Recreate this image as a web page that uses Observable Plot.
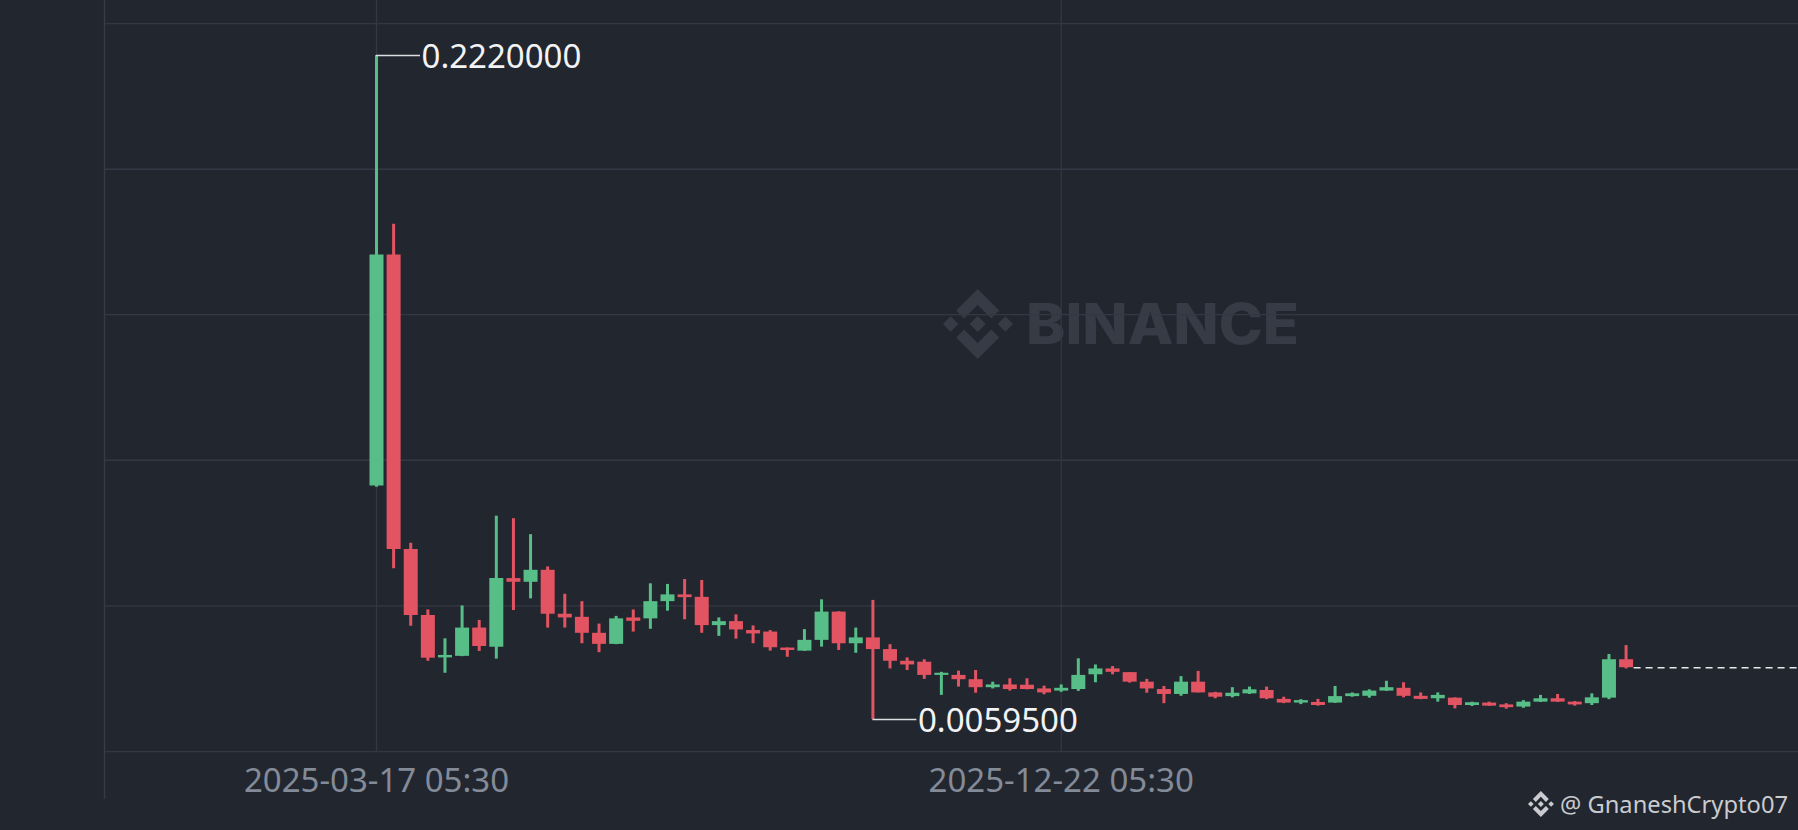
<!DOCTYPE html>
<html>
<head>
<meta charset="utf-8">
<script src="https://cdn.jsdelivr.net/npm/d3@7"></script>
<script src="https://cdn.jsdelivr.net/npm/@observablehq/plot@0.6"></script>
<style>
  html, body { margin: 0; padding: 0; background: #22262f; overflow: hidden; }
  #wrap { position: relative; width: 1798px; height: 830px; background: #22262f; }
  #wm { position: absolute; left: 0; top: 0; z-index: 0; }
  #chart { position: absolute; left: 0; top: 0; z-index: 1; }
  #credit { position: absolute; left: 0; top: 0; z-index: 2; pointer-events: none; }
</style>
</head>
<body>
<div id="wrap">
  <svg id="wm" width="1798" height="830">
    <g transform="translate(943,289) scale(0.553)" fill="#363b46">
      <polygon points="38.17,53.2 62.76,28.62 87.36,53.22 101.67,38.91 62.76,0 23.86,38.9"/>
      <polygon points="38.17,73.41 62.76,98 87.36,73.4 101.67,87.7 62.76,126.61 23.86,87.72"/>
      <polygon points="13.8,49.5 27.6,63.3 13.8,77.1 0,63.3"/>
      <polygon points="112.8,49.5 126.6,63.3 112.8,77.1 99,63.3"/>
      <polygon points="62.76,48.78 77.28,63.3 62.76,77.83 48.25,63.3"/>
    </g>
    <text x="1026" y="344" font-family="Inter, 'Noto Sans', sans-serif" font-weight="800" font-size="56" fill="#363b46" textLength="273" lengthAdjust="spacingAndGlyphs">BINANCE</text>
  </svg>
  <div id="chart"></div>
  <svg id="credit" width="1798" height="830">
    <g transform="translate(1528,791) scale(0.205)" fill="#c9cbd0">
      <polygon points="38.17,53.2 62.76,28.62 87.36,53.22 101.67,38.91 62.76,0 23.86,38.9"/>
      <polygon points="38.17,73.41 62.76,98 87.36,73.4 101.67,87.7 62.76,126.61 23.86,87.72"/>
      <polygon points="13.8,49.5 27.6,63.3 13.8,77.1 0,63.3"/>
      <polygon points="112.8,49.5 126.6,63.3 112.8,77.1 99,63.3"/>
      <polygon points="62.76,48.78 77.28,63.3 62.76,77.83 48.25,63.3"/>
    </g>
    <text x="1560" y="813" font-family="'Noto Sans', sans-serif" font-size="24" fill="#c9cbd0" textLength="228" lengthAdjust="spacingAndGlyphs">@ GnaneshCrypto07</text>
  </svg>
</div>
<script>
// ---- data (weekly candles, first candle on 2025-03-17) ----
const firstDate = new Date(Date.UTC(2025, 2, 17));

const open = [
  0.0819, 0.1571, 0.0613, 0.0398, 0.0260, 0.0265, 0.0357, 0.0295, 0.0518, 0.0506,
  0.0545, 0.0402, 0.0392, 0.0340, 0.0304, 0.0390, 0.0387, 0.0443, 0.0465, 0.0457,
  0.0365, 0.0378, 0.0349, 0.0344, 0.0292, 0.0282, 0.0317, 0.0409, 0.0306, 0.0325,
  0.0287, 0.0249, 0.0246, 0.0203, 0.0203, 0.0189, 0.0163, 0.0172, 0.0171, 0.0159,
  0.0152, 0.0157, 0.0205, 0.0224, 0.0212, 0.0181, 0.0157, 0.0141, 0.0181, 0.0146,
  0.0134, 0.0143, 0.0154, 0.0125, 0.0113, 0.0115, 0.0113, 0.0134, 0.0135, 0.0152,
  0.0161, 0.0135, 0.0127, 0.0129, 0.0105, 0.0113, 0.0107, 0.0100, 0.0116, 0.0127,
  0.0116, 0.0111, 0.0129, 0.0254
];
const high = [
  0.2220, 0.1671, 0.0633, 0.0416, 0.0322, 0.0429, 0.0382, 0.0721, 0.0713, 0.0661,
  0.0556, 0.0467, 0.0443, 0.0370, 0.0395, 0.0416, 0.0501, 0.0499, 0.0515, 0.0512,
  0.0390, 0.0400, 0.0364, 0.0349, 0.0292, 0.0352, 0.0449, 0.0410, 0.0357, 0.0447,
  0.0303, 0.0260, 0.0254, 0.0213, 0.0217, 0.0219, 0.0181, 0.0192, 0.0192, 0.0168,
  0.0172, 0.0257, 0.0237, 0.0232, 0.0212, 0.0190, 0.0167, 0.0199, 0.0216, 0.0148,
  0.0163, 0.0165, 0.0165, 0.0132, 0.0124, 0.0125, 0.0167, 0.0146, 0.0156, 0.0184,
  0.0179, 0.0146, 0.0146, 0.0130, 0.0116, 0.0116, 0.0111, 0.0121, 0.0138, 0.0141,
  0.0118, 0.0143, 0.0271, 0.0300
];
const low = [
  0.0815, 0.0550, 0.0363, 0.0249, 0.0210, 0.0264, 0.0281, 0.0256, 0.0414, 0.0452,
  0.0357, 0.0357, 0.0306, 0.0277, 0.0303, 0.0344, 0.0353, 0.0412, 0.0384, 0.0340,
  0.0330, 0.0321, 0.0306, 0.0282, 0.0262, 0.0281, 0.0295, 0.0284, 0.0275, 0.00595,
  0.0224, 0.0219, 0.0190, 0.0138, 0.0165, 0.0145, 0.0159, 0.0152, 0.0156, 0.0140,
  0.0148, 0.0151, 0.0179, 0.0205, 0.0178, 0.0145, 0.0111, 0.0135, 0.0146, 0.0127,
  0.0130, 0.0141, 0.0124, 0.0111, 0.0108, 0.0103, 0.0112, 0.0132, 0.0129, 0.0151,
  0.0130, 0.0124, 0.0116, 0.0094, 0.0102, 0.0102, 0.0093, 0.0096, 0.0115, 0.0115,
  0.0103, 0.0105, 0.0124, 0.0224
];
const close = [
  0.1571, 0.0613, 0.0398, 0.0259, 0.0268, 0.0357, 0.0297, 0.0518, 0.0506, 0.0545,
  0.0402, 0.0390, 0.0340, 0.0304, 0.0387, 0.0379, 0.0443, 0.0465, 0.0456, 0.0365,
  0.0378, 0.0351, 0.0338, 0.0293, 0.0284, 0.0317, 0.0409, 0.0306, 0.0325, 0.0287,
  0.0249, 0.0237, 0.0203, 0.0210, 0.0189, 0.0163, 0.0172, 0.0157, 0.0157, 0.0146,
  0.0161, 0.0203, 0.0224, 0.0213, 0.0181, 0.0159, 0.0141, 0.0181, 0.0146, 0.0132,
  0.0145, 0.0156, 0.0127, 0.0113, 0.0121, 0.0105, 0.0134, 0.0143, 0.0152, 0.0163,
  0.0135, 0.0125, 0.0138, 0.0105, 0.0114, 0.0103, 0.0098, 0.0116, 0.0127, 0.0116,
  0.0107, 0.0130, 0.0254, 0.0228
];

const xTickDates = [new Date(Date.UTC(2025, 2, 17)), new Date(Date.UTC(2025, 11, 22))];
const xTickLabels = ["2025-03-17 05:30", "2025-12-22 05:30"];
const yGridValues = [0.2324, 0.1850, 0.1377, 0.0903, 0.0429, -0.0045];
const yDomain = [-0.00446, 0.2399];

// ---- build table ----
const dates = open.map((_, i) => d3.utcDay.offset(firstDate, 7 * i));
const candles = open.map((o, i) => ({date: dates[i], open: o, high: high[i], low: low[i], close: close[i]}));
const up = candles.filter(d => d.close >= d.open);
const down = candles.filter(d => d.close < d.open);
const iMax = d3.maxIndex(high), iMin = d3.minIndex(low);
const extremes = [{date: dates[iMax], v: high[iMax]}, {date: dates[iMin], v: low[iMin]}];
const labelOf = new Map(xTickDates.map((d, i) => [+d, xTickLabels[i]]));

// ---- layout ----
const W = 1798, H = 830, mL = 104, mB = 79;
const pxA = 376, pxB = 1060.7;
const msPerPx = (xTickDates[1] - xTickDates[0]) / (pxB - pxA);
const xDomain = [new Date(+xTickDates[0] - (pxA - mL) * msPerPx), new Date(+xTickDates[0] + (W - pxA) * msPerPx)];
const last = candles[candles.length - 1];
const priceLine = [{date: last.date, end: xDomain[1], v: last.close}];

const GREEN = "#58be87", RED = "#e25461", GRID = "#333844", FRAME = "#363b47";

const chart = Plot.plot({
  width: W, height: H,
  marginLeft: mL, marginRight: 0, marginTop: 0, marginBottom: mB,
  style: {background: "transparent", fontFamily: "'Noto Sans', sans-serif", overflow: "visible"},
  x: {type: "utc", domain: xDomain},
  y: {domain: yDomain, axis: null},
  marks: [
    Plot.gridY(yGridValues, {stroke: GRID, strokeOpacity: 1, strokeWidth: 1.3}),
    Plot.gridX(xTickDates, {stroke: GRID, strokeOpacity: 1, strokeWidth: 1.3}),
    Plot.ruleX([xDomain[0]], {stroke: FRAME, strokeWidth: 1.5, insetBottom: -48}),
    Plot.axisX(xTickDates, {tickSize: 0, tickPadding: 17, fontSize: 33, fill: "#848b98", tickFormat: d => labelOf.get(+d), label: null}),
    Plot.ruleX(up, {x: "date", y1: "low", y2: "high", stroke: GREEN, strokeWidth: 3}),
    Plot.ruleX(down, {x: "date", y1: "low", y2: "high", stroke: RED, strokeWidth: 3}),
    Plot.ruleX(up, {x: "date", y1: "open", y2: "close", stroke: GREEN, strokeWidth: 14}),
    Plot.ruleX(down, {x: "date", y1: "open", y2: "close", stroke: RED, strokeWidth: 14}),
    Plot.ruleY(extremes, {x1: "date", x2: "date", y: "v", insetRight: -44, stroke: "#dcdee2", strokeWidth: 1.6}),
    Plot.text(extremes, {x: "date", y: "v", text: d => d3.format(".7f")(d.v), dx: 45, dy: 2, textAnchor: "start", fontSize: 33, fill: "#f2f3f5"}),
    Plot.ruleY(priceLine, {x1: "date", x2: "end", y: "v", insetLeft: 8, stroke: "#e6e7ea", strokeWidth: 1.5, strokeDasharray: "7,5"})
  ]
});
document.getElementById("chart").appendChild(chart);
</script>
</body>
</html>
